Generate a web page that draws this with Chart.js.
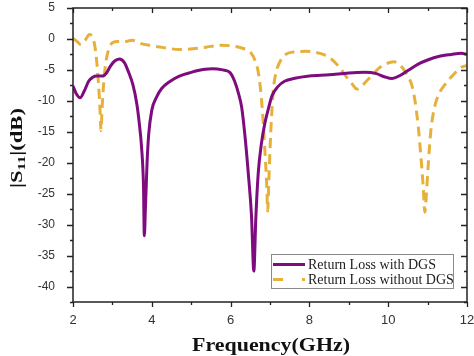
<!DOCTYPE html>
<html>
<head>
<meta charset="utf-8">
<script src="https://cdn.jsdelivr.net/npm/chart.js@4/dist/chart.umd.min.js"></script>
<style>
html,body{margin:0;padding:0;background:#fff;}
#wrap{width:474px;height:356px;position:relative;}
</style>
</head>
<body>
<div id="wrap"><canvas id="c" width="474" height="356"></canvas></div>
<script>
// Frequency (GHz) and |S11| (dB) – with DGS
const freqWith = [2.0,2.08,2.18,2.28,2.4,2.5,2.6,2.75,2.85,2.95,3.05,3.18,3.3,3.4,3.52,3.62,3.68,3.74,3.79,3.81,3.84,3.88,3.92,4.0,4.12,4.25,4.45,4.7,5.0,5.3,5.55,5.8,5.98,6.1,6.2,6.28,6.37,6.45,6.53,6.59,6.64,6.7,6.78,6.87,6.95,7.05,7.2,7.38,7.6,8.0,8.5,9.0,9.4,9.7,9.9,10.1,10.3,10.5,10.75,11.0,11.3,11.6,11.85,12.0];
const s11With = [-7.6,-8.8,-9.5,-8.5,-6.8,-6.2,-6.0,-6.0,-5.5,-4.4,-3.6,-3.25,-3.8,-5.2,-7.4,-10.5,-13.5,-17.5,-24.0,-31.8,-27.0,-20.0,-15.5,-11.5,-9.4,-8.0,-6.9,-6.0,-5.4,-4.95,-4.8,-5.0,-5.4,-6.8,-8.8,-11.0,-16.0,-21.8,-28.5,-37.5,-29.0,-21.8,-17.0,-13.6,-11.5,-9.2,-7.7,-6.8,-6.4,-6.0,-5.8,-5.5,-5.4,-5.6,-6.1,-6.4,-5.9,-5.1,-4.1,-3.4,-2.8,-2.5,-2.3,-2.5];
// without DGS
const freqWithout = [2.0,2.1,2.2,2.3,2.42,2.48,2.55,2.6,2.65,2.69,2.71,2.74,2.78,2.84,2.92,3.0,3.15,3.35,3.5,3.7,4.0,4.3,4.7,5.2,5.5,5.75,6.0,6.3,6.5,6.62,6.72,6.8,6.87,6.92,6.94,6.97,7.02,7.08,7.15,7.25,7.4,7.6,7.9,8.1,8.35,8.55,8.75,8.95,9.1,9.2,9.3,9.45,9.6,9.75,9.95,10.15,10.3,10.45,10.6,10.68,10.76,10.83,10.89,10.93,10.97,11.02,11.08,11.16,11.28,11.45,11.65,11.85,12.0];
const s11Without = [0.1,-0.4,-0.9,-0.3,0.7,0.5,-1.0,-3.5,-7.5,-12.0,-14.8,-11.0,-7.0,-3.5,-1.5,-0.6,-0.4,-0.4,-0.2,-0.7,-1.1,-1.4,-1.7,-1.5,-1.2,-1.0,-1.1,-1.5,-2.1,-3.5,-6.0,-11.0,-18.0,-24.0,-27.8,-23.0,-15.0,-8.5,-5.5,-3.7,-2.5,-2.1,-2.0,-2.1,-2.5,-3.2,-4.5,-6.2,-7.4,-8.1,-7.8,-6.8,-5.8,-4.8,-4.0,-3.7,-4.2,-5.5,-7.5,-10.0,-14.0,-19.0,-24.0,-28.0,-25.0,-20.0,-15.0,-11.5,-9.0,-7.3,-5.8,-4.6,-4.3];
const seriesLabels = ['Return Loss with DGS','Return Loss without DGS'];
const xTickLabels = ['2','4','6','8','10','12'];
const yTickLabels = ['5','0','-5','-10','-15','-20','-25','-30','-35','-40'];
const xTitle = 'Frequency(GHz)';

const PURPLE = '#7E0C7E', GOLD = '#E6B13A';
const pts = (xs, ys) => xs.map((v,i)=>({x:v,y:ys[i]}));

function drawStretched(ctx, parts, x, y, totalLen){
  let w = 0;
  parts.forEach(p=>{ctx.font=p.font; p.w=ctx.measureText(p.t).width; w+=p.w;});
  const sx = totalLen / w;
  ctx.save();
  ctx.translate(x,y);
  ctx.scale(sx,1);
  let cx = 0;
  parts.forEach(p=>{ctx.font=p.font; ctx.fillText(p.t,cx,p.dy||0); cx+=p.w;});
  ctx.restore();
}

const decor = {
  id:'decor',
  afterDraw(chart){
    const {ctx, chartArea:a, scales:{x,y}} = chart;
    ctx.save();
    ctx.strokeStyle = '#222';
    ctx.lineWidth = 1.5;
    ctx.strokeRect(a.left, a.top, a.right-a.left, a.bottom-a.top);
    ctx.lineWidth = 1.3;
    ctx.beginPath();
    x.ticks.forEach(t=>{
      const px = Math.round(x.getPixelForValue(t.value))+0.5;
      const major = t.value % 2 === 0;
      const L = major ? 5 : 3;
      ctx.moveTo(px, a.bottom); ctx.lineTo(px, a.bottom+L);
      ctx.moveTo(px, a.top); ctx.lineTo(px, a.top+L);
    });
    y.ticks.forEach(t=>{
      const py = Math.round(y.getPixelForValue(t.value))+0.5;
      const major = t.value % 5 === 0;
      const L = major ? 6 : 3;
      ctx.moveTo(a.left, py); ctx.lineTo(a.left-L, py);
      ctx.moveTo(a.right, py); ctx.lineTo(a.right-L, py);
    });
    ctx.stroke();

    // legend
    const lx = 271, ly = 254, lw = 182, lh = 34;
    ctx.fillStyle = '#fff';
    ctx.fillRect(lx, ly, lw, lh);
    ctx.strokeStyle = '#8a8a8a';
    ctx.lineWidth = 1;
    ctx.strokeRect(lx+0.5, ly+0.5, lw, lh);
    const ds = chart.data.datasets;
    const rows = [264.5, 279.5];
    ds.forEach((d,i)=>{
      ctx.save();
      ctx.strokeStyle = d.borderColor;
      ctx.lineWidth = d.borderWidth;
      ctx.setLineDash(d.borderDash ? [10,19] : []);
      ctx.beginPath();
      ctx.moveTo(273, rows[i]); ctx.lineTo(305, rows[i]);
      ctx.stroke();
      ctx.restore();
      ctx.fillStyle = '#222';
      ctx.font = '14px "Liberation Serif", "Times New Roman", serif';
      ctx.textBaseline = 'middle';
      ctx.textAlign = 'left';
      ctx.fillText(d.label, 308, rows[i]+0.5);
    });

    // axis titles
    ctx.fillStyle = '#111';
    ctx.textBaseline = 'alphabetic';
    ctx.textAlign = 'left';
    drawStretched(ctx, [{t:xTitle, font:'bold 18px "Liberation Serif", "Times New Roman", serif'}], 192, 351, 158);
    ctx.save();
    ctx.translate(22, 188);
    ctx.rotate(-Math.PI/2);
    drawStretched(ctx, [
      {t:'|S', font:'bold 16px "Liberation Serif", serif'},
      {t:'11', font:'bold 11px "Liberation Serif", serif', dy:3},
      {t:'|(dB)', font:'bold 16px "Liberation Serif", serif'}
    ], 0, 0, 80);
    ctx.restore();
    ctx.restore();
  }
};

new Chart(document.getElementById('c'), {
  type:'scatter',
  data:{
    datasets:[
      {label:seriesLabels[0], data:pts(freqWith,s11With), showLine:true, borderColor:PURPLE, backgroundColor:PURPLE, borderWidth:3, pointRadius:0, cubicInterpolationMode:'monotone', order:1},
      {label:seriesLabels[1], data:pts(freqWithout,s11Without), showLine:true, borderColor:GOLD, backgroundColor:GOLD, borderWidth:3, borderDash:[10,6], pointRadius:0, cubicInterpolationMode:'monotone', order:2}
    ]
  },
  options:{
    responsive:false,
    animation:false,
    layout:{padding:{left:0,right:7,top:8,bottom:0}},
    plugins:{legend:{display:false}, tooltip:{enabled:false}},
    scales:{
      x:{
        type:'linear', min:2, max:12,
        grid:{display:false}, border:{display:false},
        afterFit(s){ s.height = 54; s.paddingLeft = 0; s.paddingRight = 0; },
        ticks:{stepSize:1, autoSkip:false, maxRotation:0, padding:3, color:'#333',
          font:{family:'"Liberation Sans", Arial, sans-serif', size:13},
          callback:(v)=> xTickLabels.includes(String(v)) ? String(v) : ''}
      },
      y:{
        type:'linear', min:-42.5, max:5,
        grid:{display:false}, border:{display:false},
        afterFit(s){ s.width = 73; s.paddingTop = 0; s.paddingBottom = 0; },
        ticks:{stepSize:2.5, autoSkip:false, padding:10, color:'#333',
          font:{family:'"Liberation Sans", Arial, sans-serif', size:12},
          callback:(v)=> yTickLabels.includes(String(v)) ? String(v) : ''}
      }
    }
  },
  plugins:[decor]
});
</script>
</body>
</html>
